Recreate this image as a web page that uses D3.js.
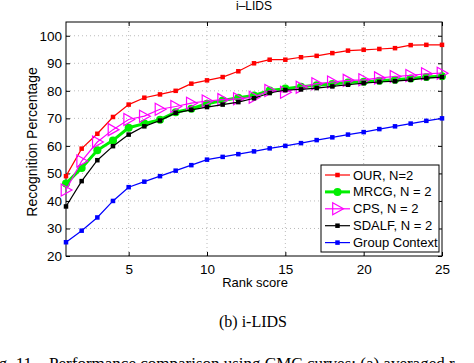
<!DOCTYPE html>
<html lang="en">
<head>
<meta charset="UTF-8">
<title>i-LIDS</title>
<style>
  body { margin: 0; background: #fff; }
  svg { display: block; }
</style>
</head>
<body>
<script src="https://cdn.jsdelivr.net/npm/d3@7"></script>
<script>
const W = 474, H = 363;

const ranks = d3.range(1, 26);
const our    = [49, 59, 64.4, 70.5, 75, 77.5, 78.7, 80, 82.6, 83.8, 85, 87.1, 90, 91.3, 91.3, 92.2, 92.7, 93.7, 94.6, 94.9, 95.2, 95.5, 96.6, 96.7, 96.7];
const mrcg   = [46.3, 52, 58.4, 62, 66.6, 68.1, 69.5, 72.2, 73.5, 75.3, 76.5, 77.5, 78.3, 80.1, 80.8, 81.5, 82, 82.5, 83, 83.3, 83.7, 84, 84.5, 85, 85.3];
const cps    = [44, 54.5, 61.4, 65.9, 69.6, 70.8, 73.3, 74.3, 75.5, 76.3, 76.8, 77.1, 77.7, 80.1, 79.5, 81.3, 82.6, 83.2, 83.8, 84, 84.7, 85.2, 85.6, 86.2, 86.4];
const sdalf  = [38, 47.2, 54.8, 59.9, 64.1, 67.1, 69.2, 72, 73.1, 74.1, 75, 75.9, 77.3, 79.2, 80.3, 80.5, 81, 81.6, 82.2, 82.8, 83.2, 83.5, 84, 84.6, 85];
const group  = [25, 29.2, 34, 40, 45, 47, 49, 51, 53, 55, 56, 57, 58, 59.1, 60, 61, 62.1, 63.1, 64.1, 65, 66.1, 67.1, 68.1, 69.1, 70];

const xTicks = [5, 10, 15, 20, 25];
const yTicks = [20, 30, 40, 50, 60, 70, 80, 90, 100];

const series = [
  { name: 'OUR, N=2',      values: our,   color: '#ff0000', width: 1.2, marker: 'square', size: 4.5 },
  { name: 'MRCG, N = 2',   values: mrcg,  color: '#00ee00', width: 3,   marker: 'circle', size: 4 },
  { name: 'CPS, N = 2',    values: cps,   color: '#ff00ff', width: 1.2, marker: 'tri',    size: 6 },
  { name: 'SDALF, N = 2',  values: sdalf, color: '#000000', width: 1.2, marker: 'square', size: 4.5 },
  { name: 'Group Context', values: group, color: '#0000ff', width: 1.2, marker: 'square', size: 4.5 }
];

const m = { left: 66, right: 32, top: 22, bottom: 107 };

const svg = d3.select('body').append('svg')
  .attr('width', W).attr('height', H);

const x = d3.scaleLinear().domain([1, 25]).range([m.left, W - m.right]);
const y = d3.scaleLinear().domain([20, 105]).range([H - m.bottom, m.top]);

const font = 'Liberation Sans, Arial, sans-serif';
const serif = 'Liberation Serif, Times New Roman, serif';

// grid
svg.append('g').selectAll('line').data(xTicks.slice(0, -1)).join('line')
  .attr('x1', d => x(d)).attr('x2', d => x(d))
  .attr('y1', y(20)).attr('y2', m.top)
  .attr('stroke', '#bbb').attr('stroke-width', 1).attr('stroke-dasharray', '1,3');
svg.append('g').selectAll('line').data(yTicks.slice(1)).join('line')
  .attr('x1', x(1)).attr('x2', x(25))
  .attr('y1', d => y(d)).attr('y2', d => y(d))
  .attr('stroke', '#bbb').attr('stroke-width', 1).attr('stroke-dasharray', '1,3');

// axes (ticks inward, matlab style)
svg.append('g').attr('transform', `translate(0,${y(20)})`)
  .call(d3.axisBottom(x).tickValues(xTicks).tickSize(-4).tickPadding(8));
svg.append('g').attr('transform', `translate(${x(1)},0)`)
  .call(d3.axisLeft(y).tickValues(yTicks).tickSize(-4).tickPadding(4));
svg.append('g').attr('transform', `translate(0,${m.top})`)
  .call(d3.axisTop(x).tickValues(xTicks).tickSize(-4).tickFormat(''));
svg.append('g').attr('transform', `translate(${x(25)},0)`)
  .call(d3.axisRight(y).tickValues(yTicks).tickSize(-4).tickFormat(''));
svg.selectAll('.domain').remove();
svg.selectAll('.tick text').attr('font-family', font).attr('font-size', 13.5).attr('fill', '#000');

svg.append('rect')
  .attr('x', x(1)).attr('y', m.top)
  .attr('width', x(25) - x(1)).attr('height', y(20) - m.top)
  .attr('fill', 'none').attr('stroke', '#000').attr('stroke-width', 1);

// markers
function drawMarker(g, s, cx, cy) {
  if (s.marker === 'square') {
    g.append('rect').attr('x', cx - s.size / 2).attr('y', cy - s.size / 2)
      .attr('width', s.size).attr('height', s.size).attr('fill', s.color);
  } else if (s.marker === 'circle') {
    g.append('circle').attr('cx', cx).attr('cy', cy).attr('r', s.size).attr('fill', s.color);
  } else {
    const r = s.size;
    g.append('path')
      .attr('d', `M${cx - r * 0.8},${cy - r}L${cx + r},${cy}L${cx - r * 0.8},${cy + r}Z`)
      .attr('fill', 'none').attr('stroke', s.color).attr('stroke-width', 1.2);
  }
}

const line = d3.line().x((d, i) => x(ranks[i])).y(d => y(d));

series.forEach(s => {
  const g = svg.append('g');
  g.append('path').datum(s.values)
    .attr('d', line).attr('fill', 'none')
    .attr('stroke', s.color).attr('stroke-width', s.width);
  s.values.forEach((v, i) => drawMarker(g, s, x(ranks[i]), y(v)));
});

// legend
const lg = svg.append('g');
lg.append('rect').attr('x', 321).attr('y', 165).attr('width', 118).attr('height', 87)
  .attr('fill', '#fff').attr('stroke', '#000').attr('stroke-width', 1);
series.forEach((s, i) => {
  const ly = 175 + i * 16.9;
  lg.append('line').attr('x1', 325).attr('x2', 350).attr('y1', ly).attr('y2', ly)
    .attr('stroke', s.color).attr('stroke-width', s.width);
  drawMarker(lg, s, 337.5, ly);
  lg.append('text').attr('x', 353).attr('y', ly + 4.5).text(s.name)
    .attr('font-family', font).attr('font-size', 13).attr('fill', '#000');
});

// titles
svg.append('text').attr('x', 254).attr('y', 10).attr('text-anchor', 'middle')
  .attr('font-family', font).attr('font-size', 12).text('i\u2013LIDS');
svg.append('text').attr('x', 255).attr('y', 287).attr('text-anchor', 'middle')
  .attr('font-family', font).attr('font-size', 13).text('Rank score');
svg.append('text').attr('transform', 'translate(37,142) rotate(-90)').attr('text-anchor', 'middle')
  .attr('font-family', font).attr('font-size', 14).text('Recognition Percentage');

// caption
svg.append('text').attr('x', 253).attr('y', 327).attr('text-anchor', 'middle')
  .attr('font-family', serif).attr('font-size', 16).text('(b) i-LIDS');
svg.append('text').attr('x', -6).attr('y', 369)
  .attr('font-family', serif).attr('font-size', 17)
  .attr('xml:space', 'preserve')
  .text('ig. 11.   Performance comparison using CMC curves: (a) averaged r');
</script>
</body>
</html>
